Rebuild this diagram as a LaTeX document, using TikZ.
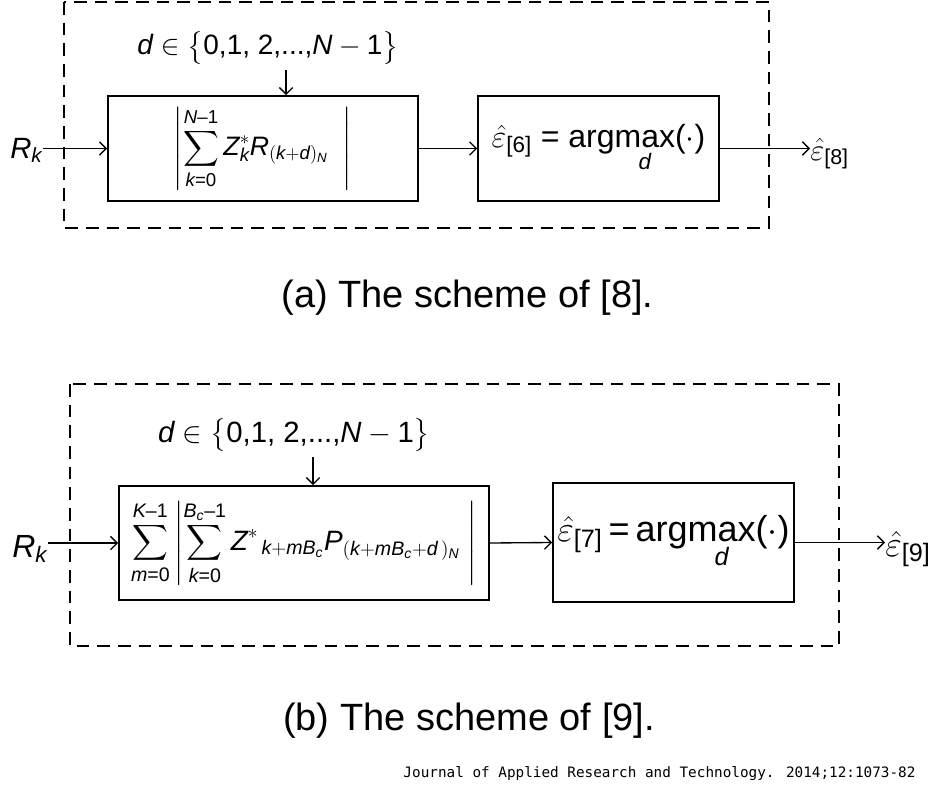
\documentclass[tikz,border=0pt]{standalone}
\usepackage{fix-cm}
\usepackage{exscale}
\usepackage{amsmath}
\usepackage{graphicx}
\usepackage{fontspec}
\setmainfont{Liberation Sans}
\newfontfamily\jfont{DejaVu Sans Mono}
\usetikzlibrary{arrows.meta}
\newcommand\vv[1]{\text{\itshape #1}}
\newcommand\tx[1]{\text{#1}}
\newcommand\bigSa{\mathop{\vcenter{\hbox{\scalebox{0.9}{$\displaystyle\sum$}}}}\limits}
\newcommand\bigSb{\mathop{\vcenter{\hbox{\scalebox{0.9}{$\displaystyle\sum$}}}}\limits}
\newcommand\argmaxd{\tx{arg}\!\mathop{\tx{max}}\limits_{\vv{d}}\!\tx{(}{\cdot}\tx{)}}
\tikzset{
  blk/.style={draw, line width=1.3pt, inner sep=0pt},
  arr/.style={line width=1pt, -{Straight Barb[length=5pt,width=10pt]}},
  frame/.style={line width=1.6pt, dash pattern=on 9.5pt off 6pt},
  lbl/.style={inner sep=0pt},
}
\begin{document}
\begin{tikzpicture}[x=0.75pt,y=-0.75pt]
\useasboundingbox (0,0) rectangle (928,792);
% ---------- (a) ----------
\draw[frame] (64,2) rectangle (769,228);
\node[blk, minimum width=232.5pt, minimum height=78.75pt] (b1a) at (263,148.5)
  {\fontsize{20}{23}\selectfont$\displaystyle\left|\bigSa_{\vv{k}\tx{=0}}^{\vv{N}\tx{--1}}\vv{Z}_{\vv{k}}^{*}\vv{R}_{(\vv{k}+\vv{d})_{\vv{N}}}\;\;\right|$};
\node[blk, minimum width=180.75pt, minimum height=78.75pt] (b2a) at (598.5,148.5)
  {\fontsize{24}{28}\selectfont$\hat{\varepsilon}_{\tx{[6]}}\;\tx{=}\;\argmaxd$};
\node[lbl, anchor=base west, font=\fontsize{22}{26}\selectfont] (rka) at (10,158) {$\vv{R}_{\vv{k}}$};
\node[lbl, anchor=base west, font=\fontsize{23}{26}\selectfont] (outa) at (810,160) {$\hat{\varepsilon}_{\tx{[8]}}$};
\node[lbl, anchor=base, font=\fontsize{21}{25}\selectfont] (da) at (268,55)
  {$\vv{d}\in\bigl\{\tx{0,1, 2,...,}\vv{N}-\tx{1}\bigr\}$};
\coordinate (dta) at (286,70);
\draw[arr] (rka.east |- b1a.west) -- (b1a.west);
\draw[arr] (b1a.east) -- (b2a.west);
\draw[arr] (b2a.east) -- (b2a.east -| outa.west);
\draw[arr] (dta) -- (dta |- b1a.north);
\node[lbl, anchor=base, font=\fontsize{28.5}{32}\selectfont] (capa) at (467.5,307) {(a) The scheme of [8].};
% ---------- (b) ----------
\draw[frame] (70,384) rectangle (839,646);
\node[blk, minimum width=277.5pt, minimum height=85.5pt] (b1b) at (304,543)
  {\fontsize{21}{24}\selectfont$\displaystyle\bigSb_{\vv{m}\tx{=0}}^{\vv{K}\tx{--1}}\left|\bigSb_{\vv{k}\tx{=0}}^{\vv{B}_{\vv{c}}\tx{--1}}\vv{Z}^{*}{}_{\,\vv{k}+\vv{m}\vv{B}_{\vv{c}}}\vv{P}_{(\vv{k}+\vv{m}\vv{B}_{\vv{c}}+\vv{d}\,)_{\vv{N}}}\;\right|$};
\node[blk, minimum width=180.75pt, minimum height=89.25pt] (b2b) at (673.5,542.5)
  {\fontsize{27}{31}\selectfont$\hat{\varepsilon}_{\tx{[7]}}\,\tx{=}\,\argmaxd$};
\node[lbl, anchor=base west, font=\fontsize{24}{28}\selectfont] (rkb) at (12,557) {$\vv{R}_{\vv{k}}$};
\node[lbl, anchor=base west, font=\fontsize{27}{30}\selectfont] (outb) at (885,556) {$\hat{\varepsilon}_{\tx{[9]}}$};
\node[lbl, anchor=base, font=\fontsize{22}{26}\selectfont] (db) at (294,442)
  {$\vv{d}\in\bigl\{\tx{0,1, 2,...,}\vv{N}-\tx{1}\bigr\}$};
\coordinate (dtb) at (313,457);
\draw[arr] (rkb.east |- b1b.west) -- (b1b.west);
\draw[arr] (b1b.east) -- (b2b.west);
\draw[arr] (b2b.east) -- (b2b.east -| outb.west);
\draw[arr] (dtb) -- (dtb |- b1b.north);
\node[lbl, anchor=base, font=\fontsize{28.5}{32}\selectfont] (capb) at (469,730) {(b) The scheme of [9].};
\node[lbl, anchor=base, font=\jfont\fontsize{10.75}{13}\selectfont] (jrn) at (659.5,777) {Journal of Applied Research and Technology. 2014;12:1073-82};
\end{tikzpicture}
\end{document}
